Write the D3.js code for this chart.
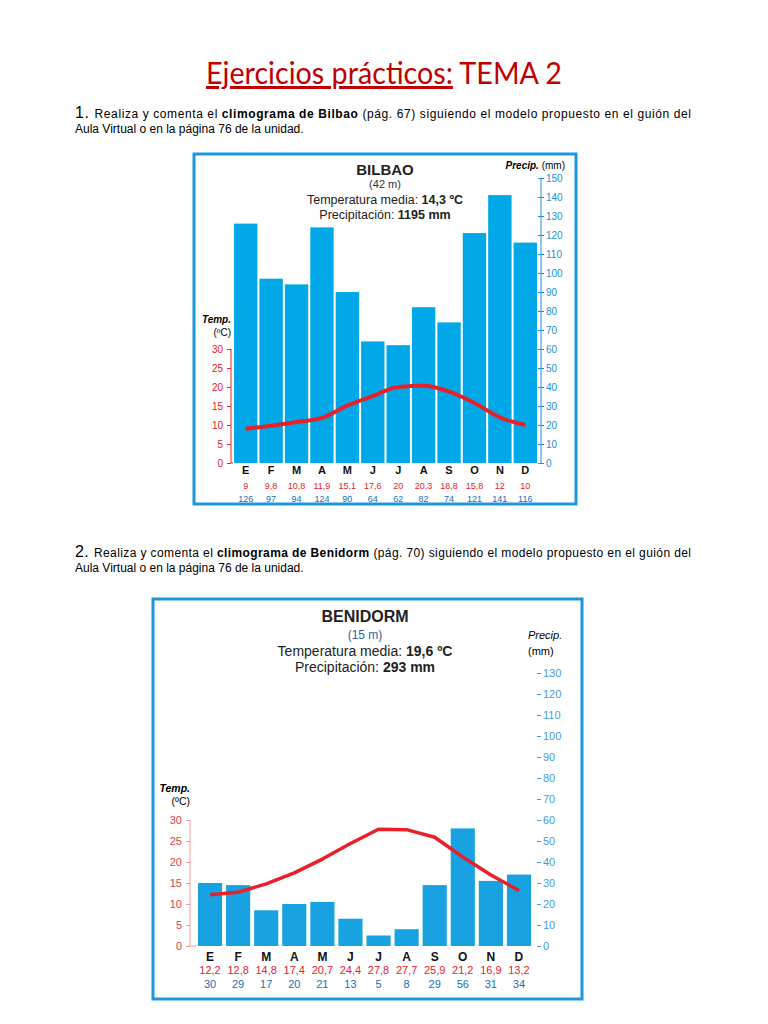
<!DOCTYPE html>
<html lang="es">
<head>
<meta charset="utf-8">
<title>Climogramas</title>
<script src="https://cdnjs.cloudflare.com/ajax/libs/d3/7.8.5/d3.min.js"></script>
<style>
  body { margin: 0; background: #fff; }
  svg text { font-family: "Liberation Sans", Arial, sans-serif; }
</style>
</head>
<body>
<script>
// data
var months = ["E", "F", "M", "A", "M", "J", "J", "A", "S", "O", "N", "D"];

var bilbaoTemp = [9, 9.8, 10.8, 11.9, 15.1, 17.6, 20, 20.3, 18.8, 15.8, 12, 10];
var bilbaoPrec = [126, 97, 94, 124, 90, 64, 62, 82, 74, 121, 141, 116];
var bilbaoTempLabels = ["9", "9,8", "10,8", "11,9", "15,1", "17,6", "20", "20,3", "18,8", "15,8", "12", "10"];
var bilbaoPrecTicks = d3.range(0, 151, 10);

var benidormTemp = [12.2, 12.8, 14.8, 17.4, 20.7, 24.4, 27.8, 27.7, 25.9, 21.2, 16.9, 13.2];
var benidormPrec = [30, 29, 17, 20, 21, 13, 5, 8, 29, 56, 31, 34];
var benidormTempLabels = ["12,2", "12,8", "14,8", "17,4", "20,7", "24,4", "27,8", "27,7", "25,9", "21,2", "16,9", "13,2"];
var benidormPrecTicks = d3.range(0, 131, 10);

var tempTicks = [0, 5, 10, 15, 20, 25, 30];

var svg = d3.select("body").append("svg")
    .attr("width", 768)
    .attr("height", 1024);

// page title
var title = svg.append("text")
    .attr("x", 384).attr("y", 84)
    .attr("text-anchor", "middle")
    .attr("fill", "#c00000")
    .style("font-family", "Lato, sans-serif")
    .style("font-size", "30px")
    .attr("textLength", 356)
    .attr("lengthAdjust", "spacingAndGlyphs");
title.append("tspan").style("text-decoration", "underline").text("Ejercicios prácticos:");
title.append("tspan").text(" TEMA 2");

function paragraph(num, city, page, y) {
  var t = svg.append("text")
      .attr("x", 75).attr("y", y)
      .attr("textLength", 616)
      .attr("lengthAdjust", "spacing")
      .style("font-size", "12px");
  t.append("tspan").style("font-size", "16px").text(num + ". ");
  t.append("tspan").text("Realiza y comenta el ");
  t.append("tspan").style("font-weight", "bold").text("climograma de " + city);
  t.append("tspan").text(" (pág. " + page + ") siguiendo el modelo propuesto en el guión del");
  svg.append("text")
      .attr("x", 75).attr("y", y + 15)
      .style("font-size", "12px")
      .text("Aula Virtual o en la página 76 de la unidad.");
}
paragraph(1, "Bilbao", 67, 118);
paragraph(2, "Benidorm", 70, 557);

function climogram(c) {
  var g = svg.append("g");

  g.append("rect")
      .attr("x", c.box[0]).attr("y", c.box[1])
      .attr("width", c.box[2]).attr("height", c.box[3])
      .attr("fill", "#fff")
      .attr("stroke", "#1e96dc")
      .attr("stroke-width", 3);

  var x = d3.scaleBand()
      .domain(d3.range(12))
      .range(c.xRange)
      .paddingInner(c.pad)
      .paddingOuter(c.pad / 2);
  var yP = d3.scaleLinear().domain([0, c.precMax]).range([c.y0, c.yTop]);
  var yT = d3.scaleLinear().domain([0, c.precMax / 2]).range([c.y0, c.yTop]);

  // bars
  g.selectAll(".bar")
    .data(c.prec)
    .enter().append("rect")
      .attr("x", function(d, i) { return x(i); })
      .attr("y", function(d) { return yP(d); })
      .attr("width", x.bandwidth())
      .attr("height", function(d) { return c.y0 - yP(d); })
      .attr("fill", c.barColor);

  // temperature line
  var line = d3.line()
      .x(function(d, i) { return x(i) + x.bandwidth() / 2; })
      .y(function(d) { return yT(d); })
      .curve(c.curve);
  g.append("path")
      .datum(c.temp)
      .attr("d", line)
      .attr("fill", "none")
      .attr("stroke", "#e8202a")
      .attr("stroke-width", c.lineWidth)
      .attr("stroke-linejoin", "round");

  // precipitation axis
  var ra = g.append("g")
      .attr("transform", "translate(" + c.rightX + ",0)")
      .call(d3.axisRight(yP).tickValues(c.precTicks).tickSize(c.rTick).tickSizeOuter(0).tickPadding(3));
  ra.select(".domain").attr("stroke", c.rightLine ? c.rightColor : "none")
      .attr("d", "M0," + yP(0) + "V" + yP(c.precTicks[c.precTicks.length - 1]));
  ra.selectAll(".tick line").attr("stroke", c.rightColor).attr("x1", -c.rTick / 2).attr("x2", c.rTick / 2);
  ra.selectAll(".tick text").attr("fill", c.rightColor).style("font-size", c.axisFont)
      .attr("x", c.rTick / 2 + 2);

  // temperature axis
  var la = g.append("g")
      .attr("transform", "translate(" + c.leftX + ",0)")
      .call(d3.axisLeft(yT).tickValues(tempTicks).tickSize(4).tickSizeOuter(0).tickPadding(4));
  la.select(".domain").attr("stroke", c.leftLine)
      .attr("d", "M" + (c.xRange[0] - c.leftX) + "," + yT(0) + "H0V" + yT(30));
  la.selectAll(".tick line").attr("stroke", c.leftLine);
  la.selectAll(".tick text").attr("fill", c.leftColor).style("font-size", c.axisFont);

  // axis titles
  g.append("text").attr("x", c.leftX).attr("y", c.tempTitleY)
      .attr("text-anchor", "end").style("font-size", c.smallFont)
      .style("font-weight", "bold").style("font-style", "italic").text("Temp.");
  g.append("text").attr("x", c.leftX).attr("y", c.tempTitleY + 13)
      .attr("text-anchor", "end").style("font-size", c.smallFont).text("(ºC)");
  c.precTitle(g);

  // header
  var hx = c.headX, hy = c.headYs;
  g.append("text").attr("x", hx).attr("y", hy[0])
      .attr("text-anchor", "middle").style("font-size", c.headFont)
      .style("font-weight", "bold").attr("fill", "#222").text(c.name);
  g.append("text").attr("x", hx).attr("y", hy[1])
      .attr("text-anchor", "middle").style("font-size", c.subFont).attr("fill", c.altColor).text(c.alt);
  var t1 = g.append("text").attr("x", hx).attr("y", hy[2])
      .attr("text-anchor", "middle").style("font-size", c.infoFont).attr("fill", "#222");
  t1.append("tspan").text("Temperatura media: ");
  t1.append("tspan").style("font-weight", "bold").text(c.meanT);
  var t2 = g.append("text").attr("x", hx).attr("y", hy[3])
      .attr("text-anchor", "middle").style("font-size", c.infoFont).attr("fill", "#222");
  t2.append("tspan").text("Precipitación: ");
  t2.append("tspan").style("font-weight", "bold").text(c.total);

  // bottom labels
  var cx = function(d, i) { return x(i) + x.bandwidth() / 2; };
  g.selectAll(".m").data(months).enter().append("text")
      .attr("x", cx).attr("y", c.labY[0]).attr("text-anchor", "middle")
      .style("font-size", c.monthFont).style("font-weight", "bold").attr("fill", "#111")
      .text(function(d) { return d; });
  g.selectAll(".t").data(c.tempLabels).enter().append("text")
      .attr("x", cx).attr("y", c.labY[1]).attr("text-anchor", "middle")
      .style("font-size", c.valFont).attr("fill", "#e8202a")
      .text(function(d) { return d; });
  g.selectAll(".p").data(c.prec).enter().append("text")
      .attr("x", cx).attr("y", c.labY[2]).attr("text-anchor", "middle")
      .style("font-size", c.valFont).attr("fill", "#1a6fb8")
      .text(function(d) { return d; });
}

climogram({
  name: "BILBAO", alt: "(42 m)", meanT: "14,3 ºC", total: "1195 mm",
  temp: bilbaoTemp, prec: bilbaoPrec, tempLabels: bilbaoTempLabels, precTicks: bilbaoPrecTicks,
  box: [194, 154, 382, 350],
  xRange: [233, 538], pad: 0.08,
  y0: 463, yTop: 178, precMax: 150,
  barColor: "#00a8e8", curve: d3.curveMonotoneX, lineWidth: 4,
  rightX: 541, rTick: 6, rightLine: true, rightColor: "#1a8fd8",
  leftX: 231, leftLine: "#e8202a", leftColor: "#e8202a",
  axisFont: "10px", smallFont: "10px",
  tempTitleY: 323,
  precTitle: function(g) {
    var t = g.append("text").attr("x", 565).attr("y", 169)
        .attr("text-anchor", "end").style("font-size", "10px");
    t.append("tspan").style("font-weight", "bold").style("font-style", "italic").text("Precip.");
    t.append("tspan").text(" (mm)");
  },
  headX: 385, headYs: [175, 188, 204, 218.5], altColor: "#333",
  headFont: "15px", subFont: "11px", infoFont: "12.5px",
  labY: [474, 489, 502], monthFont: "11px", valFont: "9px"
});

climogram({
  name: "BENIDORM", alt: "(15 m)", meanT: "19,6 ºC", total: "293 mm",
  temp: benidormTemp, prec: benidormPrec, tempLabels: benidormTempLabels, precTicks: benidormPrecTicks,
  box: [153, 599, 429, 400],
  xRange: [196, 533], pad: 0.14,
  y0: 946, yTop: 673, precMax: 130,
  barColor: "#18a2e2", curve: d3.curveLinear, lineWidth: 3.5,
  rightX: 539, rTick: 4, rightLine: false, rightColor: "#4a9ad8",
  leftX: 190, leftLine: "#f29a9a", leftColor: "#e04050",
  axisFont: "11px", smallFont: "10.5px",
  tempTitleY: 792,
  precTitle: function(g) {
    g.append("text").attr("x", 528).attr("y", 639).style("font-size", "11px")
        .style("font-style", "italic").text("Precip.");
    g.append("text").attr("x", 528).attr("y", 655).style("font-size", "11px").text("(mm)");
  },
  headX: 365, headYs: [622, 638.5, 656, 672], altColor: "#2f5fa8",
  headFont: "16px", subFont: "12px", infoFont: "14px",
  labY: [961, 974, 988], monthFont: "12px", valFont: "11px"
});
</script>
</body>
</html>
